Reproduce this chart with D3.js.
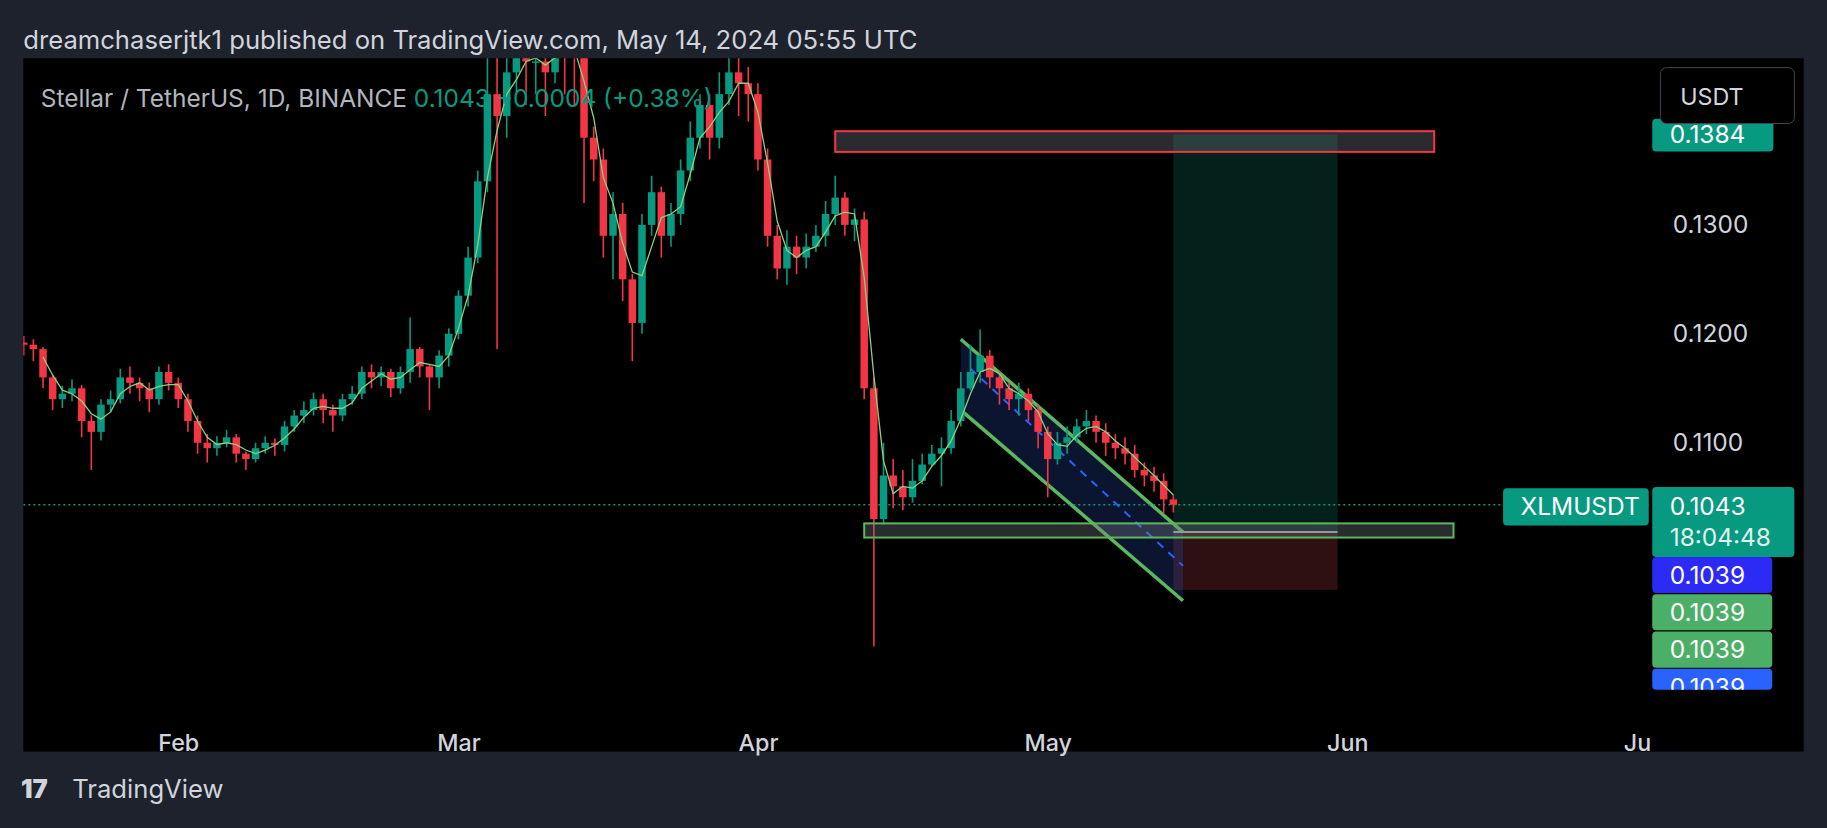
<!DOCTYPE html>
<html><head><meta charset="utf-8">
<script src="https://cdn.jsdelivr.net/npm/d3@7"></script>
<style>body{margin:0;background:#1e222d;overflow:hidden}text{font-family:Inter,"Noto Sans",sans-serif}</style>
</head><body><svg id="c" width="1827" height="828"></svg>
<script>
// daily XLM/USDT, Jan 16 -> May 14 2024
var startDate = "2024-01-16";
var firstOpen = 0.1192;
var closes = [
 .1190,.1186,.1160,.1140,.1145,.1150,.1120,.1110,.1135,.1140,.1160,.1155,.1150,.1140,.1165,.1155,
 .1140,.1120,.1100,.1095,.1100,.1105,.1090,.1085,.1095,.1100,.1098,.1115,.1125,.1130,.1140,.1130,.1125,.1140,.1145,.1165,.1160,.1165,.1150,.1165,.1186,.1170,.1160,.1180,.1200,
 .1235,.1270,.1340,.1420,.1400,.1440,.1460,.1450,.1450,.1440,.1470,.1460,.1455,.1380,.1360,.1290,.1310,.1250,.1210,.1300,.1330,.1290,.1310,.1350,.1380,.1410,.1380,.1420,.1440,.1430,.1420,
 .1360,.1290,.1260,.1280,.1270,.1280,.1290,.1310,.1325,.1300,.1305,.1150,.1030,.1070,.1060,.1050,.1065,.1080,.1090,.1095,.1120,.1150,.1165,.1180,.1160,.1150,.1140,.1145,.1130,.1110,
 .1085,.1100,.1105,.1115,.1120,.1110,.1100,.1095,.1090,.1075,.1070,.1065,.1048,.1043];
var highs = [
 .1198,.1195,.1188,.1162,.1152,.1158,.1153,.1125,.1140,.1148,.1168,.1170,.1160,.1155,.1170,.1172,
 .1160,.1145,.1125,.1108,.1106,.1112,.1108,.1092,.1100,.1106,.1104,.1120,.1130,.1138,.1146,.1145,.1135,.1145,.1152,.1170,.1172,.1170,.1168,.1170,.1215,.1188,.1172,.1185,.1205,
 .1240,.1280,.1350,.1480,.1500,.1520,.1530,.1500,.1490,.1500,.1520,.1500,.1480,.1460,.1390,.1370,.1330,.1320,.1255,.1310,.1345,.1335,.1320,.1360,.1395,.1420,.1420,.1440,.1470,.1460,.1445,
 .1430,.1370,.1300,.1295,.1290,.1292,.1300,.1322,.1345,.1330,.1315,.1312,.1160,.1100,.1085,.1075,.1085,.1090,.1098,.1105,.1130,.1165,.1190,.1204,.1185,.1165,.1155,.1155,.1150,.1135,
 .1115,.1110,.1115,.1122,.1130,.1125,.1118,.1108,.1105,.1098,.1082,.1078,.1072,.1052];
var lows = [
 .1180,.1175,.1150,.1130,.1132,.1138,.1105,.1075,.1102,.1128,.1136,.1145,.1138,.1128,.1135,.1148,
 .1132,.1110,.1090,.1082,.1088,.1096,.1082,.1075,.1082,.1090,.1088,.1092,.1110,.1118,.1125,.1118,.1110,.1120,.1135,.1140,.1150,.1152,.1142,.1145,.1155,.1160,.1130,.1150,.1170,
 .1195,.1225,.1265,.1330,.1186,.1380,.1420,.1410,.1420,.1400,.1430,.1420,.1410,.1320,.1340,.1270,.1250,.1230,.1175,.1200,.1290,.1270,.1280,.1300,.1340,.1370,.1360,.1370,.1410,.1400,.1395,
 .1350,.1280,.1250,.1245,.1255,.1260,.1275,.1280,.1300,.1290,.1285,.1140,.0913,.1025,.1040,.1038,.1045,.1062,.1078,.1060,.1090,.1115,.1148,.1155,.1150,.1135,.1130,.1125,.1120,.1095,
 .1050,.1080,.1090,.1100,.1108,.1100,.1088,.1085,.1080,.1068,.1060,.1055,.1035,.1036];
var monthTicks = ["2024-02-01","2024-03-01","2024-04-01","2024-05-01","2024-06-01","2024-07-01"];
var monthLabels = ["Feb","Mar","Apr","May","Jun","Ju"];
var priceTicks = [0.11,0.12,0.13];
var lastPrice = 0.1043;
var sideLabels = [["0.1039","#2b2bf5"],["0.1039","#4caf68"],["0.1039","#4caf68"],["0.1039","#2962ff"]];

var S = 1827/1568;
var svg = d3.select("#c");
var parse = d3.utcParse("%Y-%m-%d");
var day = function(i){ return d3.utcDay.offset(parse(startDate), i); };
var x = d3.scaleUtc().domain([parse("2024-02-01"), parse("2024-07-01")]).range([153*S, 1405*S]);
var y = d3.scaleLinear().domain([0.11, 0.13]).range([380*S, 193*S]);
var pL = 20*S, pR = 1548*S, pT = 50*S, pB = 645*S, plotR = 1415*S;
var up = "#089981", dn = "#f23645";

svg.append("text").attr("x", 20*S).attr("y", 42*S).attr("fill", "#d1d4dc").attr("font-size", 22*S)
  .text("dreamchaserjtk1 published on TradingView.com, May 14, 2024 05:55 UTC");
svg.append("rect").attr("x", pL).attr("y", pT).attr("width", pR-pL).attr("height", pB-pT).attr("fill", "#000");
svg.append("clipPath").attr("id", "cp").append("rect").attr("x", pL).attr("y", pT).attr("width", plotR-pL).attr("height", pB-pT);
var g = svg.append("g").attr("clip-path", "url(#cp)");

// long position box
var x0 = x(parse("2024-05-14")), x1 = x(parse("2024-05-31"));
g.append("rect").attr("x", x0).attr("width", x1-x0).attr("y", y(0.1383)).attr("height", y(0.1018)-y(0.1383)).attr("fill", "#04201a");
g.append("rect").attr("x", x0).attr("width", x1-x0).attr("y", y(0.1018)).attr("height", y(0.0965)-y(0.1018)).attr("fill", "#2e1013");

// zones
function zone(d0, d1, p0, p1, col){
  var a = x(parse(d0)), b = x(parse(d1));
  g.append("rect").attr("x", a).attr("width", b-a).attr("y", y(p0)).attr("height", y(p1)-y(p0))
    .attr("fill", "rgba(120,123,134,0.35)").attr("stroke", col).attr("stroke-width", 2);
}
zone("2024-04-09","2024-06-10",0.1386,0.1367,dn);

// channel
var cA = parse("2024-04-22"), cB = parse("2024-05-15");
var upperL = [[cA,0.1195],[cB,0.1018]], lowerL = [[cB,0.0955],[cA,0.1130]];
g.append("path").attr("d", d3.line().x(d=>x(d[0])).y(d=>y(d[1]))(upperL.concat(lowerL)) + "Z").attr("fill", "rgba(41,70,160,0.3)");
[upperL, lowerL].forEach(function(l){
  g.append("path").attr("d", d3.line().x(d=>x(d[0])).y(d=>y(d[1]))(l)).attr("stroke", "#5cb85c").attr("stroke-width", 3.5).attr("fill", "none");
});
g.append("line").attr("x1", x(parse("2024-04-23"))).attr("y1", y(0.1168)).attr("x2", x(cB)).attr("y2", y(0.0987))
  .attr("stroke", "#2962ff").attr("stroke-width", 2).attr("stroke-dasharray", "8,7");

// last price line
g.append("line").attr("x1", pL).attr("x2", pR).attr("y1", y(lastPrice)).attr("y2", y(lastPrice))
  .attr("stroke", up).attr("stroke-width", 1.5).attr("stroke-dasharray", "2,3");

// candles
var bars = closes.map(function(c, i){ return {d: day(i), o: i ? closes[i-1] : firstOpen, h: highs[i], l: lows[i], c: c}; });
var bw = 7.5;
bars.forEach(function(b){
  var col = b.c >= b.o ? up : dn, cx = x(b.d);
  g.append("line").attr("x1", cx).attr("x2", cx).attr("y1", y(b.h)).attr("y2", y(b.l)).attr("stroke", col).attr("stroke-width", 1.6);
  g.append("rect").attr("x", cx-bw/2).attr("width", bw).attr("y", y(Math.max(b.o,b.c)))
    .attr("height", Math.max(1.5, Math.abs(y(b.o)-y(b.c)))).attr("fill", col);
});
// 3-day moving average
var ma = bars.map((b, i) => i < 2 ? null : {d: b.d, v: d3.mean(closes.slice(i-2, i+1))}).filter(Boolean);
g.append("path").attr("d", d3.line().x(d=>x(d.d)).y(d=>y(d.v))(ma)).attr("fill", "none").attr("stroke", "#8bd17c").attr("stroke-width", 1.3);

zone("2024-04-12","2024-06-12",0.1026,0.1013,"#5cb85c");
g.append("line").attr("x1", x0).attr("x2", x1).attr("y1", y(0.1018)).attr("y2", y(0.1018)).attr("stroke", "#9598a1").attr("stroke-width", 2);

// legend
var lg = svg.append("text").attr("x", 35*S).attr("y", 92*S).attr("font-size", 21*S);
lg.append("tspan").attr("fill", "#b2b5be").text("Stellar / TetherUS, 1D, BINANCE  ");
lg.append("tspan").attr("fill", up).text("0.1043 +0.0004 (+0.38%)");

// axes
var xa = svg.append("g").attr("transform", "translate(0," + (628*S) + ")")
  .call(d3.axisBottom(x).tickValues(monthTicks.map(parse)).tickFormat((d,i)=>monthLabels[i]).tickSize(0));
xa.select(".domain").remove();
xa.selectAll("text").attr("fill", "#d1d4dc").attr("font-size", 20*S).attr("font-weight", 500);
var ya = svg.append("g").attr("transform", "translate(" + (1433*S) + ",0)")
  .call(d3.axisRight(y).tickValues(priceTicks).tickFormat(d3.format(".4f")).tickSize(0));
ya.select(".domain").remove();
ya.selectAll("text").attr("fill", "#d1d4dc").attr("font-size", 21*S);

// price labels
function box(xa_, ya_, w, h, fill, txt, r){
  svg.append("rect").attr("x", xa_*S).attr("y", ya_*S).attr("width", w*S).attr("height", h*S).attr("rx", r||4).attr("fill", fill);
  if (txt) svg.append("text").attr("x", (xa_+15)*S).attr("y", (ya_+h/2+7)*S).attr("fill", "#fff").attr("font-size", 21*S).text(txt);
}
box(1418, 102, 104, 28, up, "0.1384");
svg.append("rect").attr("x", 1425*S).attr("y", 58*S).attr("width", 115*S).attr("height", 48*S).attr("rx", 6).attr("fill", "#000").attr("stroke", "#434651");
svg.append("text").attr("x", 1442*S).attr("y", 90*S).attr("fill", "#d1d4dc").attr("font-size", 20*S).text("USDT");
sideLabels.forEach(function(s, i){ box(1418, 478 + i*32, 103, i == 3 ? 18 : 31, s[1], null); });
svg.append("clipPath").attr("id", "cl").append("rect").attr("x", 1418*S).attr("y", 470*S).attr("width", 110*S).attr("height", 122*S);
sideLabels.forEach(function(s, i){
  svg.append("text").attr("clip-path", "url(#cl)").attr("x", 1433*S).attr("y", (501 + i*32)*S).attr("fill", "#fff").attr("font-size", 21*S).text(s[0]);
});
box(1290, 419, 125, 32, up, "XLMUSDT");
box(1418, 418, 122, 60, up, null);
svg.append("text").attr("x", 1433*S).attr("y", 442*S).attr("fill", "#fff").attr("font-size", 21*S).text(d3.format(".4f")(lastPrice));
svg.append("text").attr("x", 1433*S).attr("y", 469*S).attr("fill", "#e0f2ee").attr("font-size", 21*S).text("18:04:48");

// footer
svg.append("text").attr("x", 18*S).attr("y", 685*S).attr("fill", "#d1d4dc").attr("font-size", 22*S).attr("font-weight", 900).text("17");
svg.append("text").attr("x", 62*S).attr("y", 685*S).attr("fill", "#d1d4dc").attr("font-size", 22*S).text("TradingView");
</script></body></html>
